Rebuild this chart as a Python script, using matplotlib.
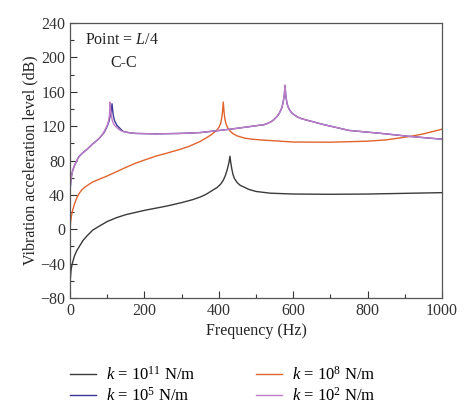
import matplotlib
matplotlib.use("Agg")
import matplotlib.pyplot as plt
from matplotlib.ticker import MultipleLocator

plt.rcParams['font.family'] = ['Liberation Serif', 'DejaVu Serif']
plt.rcParams['mathtext.fontset'] = 'custom'
plt.rcParams['mathtext.rm'] = 'Liberation Serif'
plt.rcParams['mathtext.it'] = 'Liberation Serif:italic'

# ---- data ----
f_k11 = [0, 1, 3, 5, 8, 12, 18, 25, 35, 45, 61, 80, 100, 125, 150, 175, 200, 230, 260,
         300, 330, 350, 365, 380, 395, 405, 412, 418, 423, 427, 430, 432, 435, 438, 442,
         450, 458, 466, 480, 500, 538, 600, 700, 800, 900, 1000]
v_k11 = [-65, -57, -47, -42, -37, -31, -25, -20, -13, -8, -1, 4, 9, 13.5, 17, 19.5, 22,
         24.5, 27, 31, 34.5, 37.5, 40.5, 44.5, 48.5, 52.5, 57, 63, 70, 77, 85, 78, 70, 64, 59,
         54, 51, 49.5, 46.5, 44, 42, 41, 40.7, 41, 41.8, 42.6]

f_k8 = [0, 1, 2, 4, 7, 11, 15, 20, 25, 32, 40, 50, 61, 80, 100, 120, 150, 177, 200, 230,
        260, 296, 320, 349, 365, 380, 394, 400, 405, 408, 410, 412, 414, 416, 419, 425,
        432, 439, 450, 470, 490, 511, 600, 700, 800, 850, 914, 950, 1000]
v_k8 = [-2, 5, 10, 16, 22, 28, 33, 38, 42, 46, 49, 52, 55, 58.5, 62, 66, 72, 77, 80.5,
        85, 88.5, 93, 96.5, 102, 106, 110, 115, 118.5, 123, 130, 137, 148, 137, 129, 123,
        117, 113.5, 111, 108.5, 106, 104.8, 104, 101.5, 101.3, 102.5, 104, 108, 111, 116.4]

f_k5 = [0, 1, 2, 3, 5, 7, 10, 13, 16, 20, 25, 33, 43, 52, 60, 70, 79, 86, 92, 97, 101,
        105, 108, 111, 113, 115, 117, 120, 126, 134, 142, 157, 177, 230, 296, 350, 430,
        484, 500, 520, 530, 540, 548, 556, 562, 566, 570, 573, 576, 578, 580, 583, 586,
        590, 595, 600, 610, 620, 636, 654, 675, 700, 750, 833, 914, 1000]
v_k5 = [42, 50, 55, 59, 64, 68, 72, 75, 78, 81.5, 85, 88.5, 92, 95.5, 99, 102.5, 106,
        109.5, 113, 117, 121, 126, 132, 138, 146, 137, 131, 126, 121, 117.5, 114, 112.5,
        111.5, 111, 111.5, 112.5, 116.4, 119.5, 120.5, 121.5, 123, 125, 127.5, 131, 134.5,
        138, 142, 148, 156, 167, 156, 147, 142.5, 139, 136, 134, 131, 129, 127, 125, 122.5,
        120, 115, 111.7, 108, 104.8]

f_k2 = [0, 1, 2, 3, 5, 7, 10, 13, 16, 20, 25, 33, 43, 52, 60, 70, 79, 86, 92, 97, 101,
        104, 106, 108, 109, 111, 114, 118, 124, 132, 140, 155, 177, 230, 296, 350, 430,
        484, 500, 520, 530, 540, 548, 556, 562, 566, 570, 573, 576, 578, 580, 583, 586,
        590, 595, 600, 610, 620, 636, 654, 675, 700, 750, 833, 914, 1000]
v_k2 = [42, 50, 55, 59, 64, 68, 72, 75, 78, 81.5, 85, 88.5, 92, 95.5, 99, 102.5, 106,
        109.5, 114, 118, 122, 127, 133, 148, 140, 132, 126, 122, 119, 116, 114, 112.5,
        111.5, 111, 111.5, 112.5, 116.4, 119.5, 120.5, 121.5, 123, 125, 127.5, 131, 134.5,
        138, 142, 148, 156, 168, 156, 147, 142.5, 139, 136, 134, 131, 129, 127, 125, 122.5,
        120, 115, 111.7, 108, 104.8]

labels = [r'$k$ = 10$^{11}$ N/m', r'$k$ = 10$^{5}$ N/m',
          r'$k$ = 10$^{8}$ N/m', r'$k$ = 10$^{2}$ N/m']
colors = ['#3a3a3a', '#3b3796', '#e0642c', '#c07cc6']

fig = plt.figure(figsize=(4.74, 4.18), dpi=100)
ax = fig.add_axes([0.1477, 0.287, 0.7848, 0.658])

h11, = ax.plot(f_k11, v_k11, color=colors[0], lw=1.0)
h8, = ax.plot(f_k8, v_k8, color=colors[2], lw=1.0)
h5, = ax.plot(f_k5, v_k5, color=colors[1], lw=1.0)
h2, = ax.plot(f_k2, v_k2, color=colors[3], lw=1.0)

ax.set_xlim(0, 1000)
ax.set_ylim(-80, 240)
ax.xaxis.set_major_locator(MultipleLocator(200))
ax.xaxis.set_minor_locator(MultipleLocator(100))
ax.yaxis.set_major_locator(MultipleLocator(40))
ax.yaxis.set_minor_locator(MultipleLocator(20))
ax.tick_params(which='both', direction='in', top=False, right=False,
               labelsize=11.5, colors='#333333', width=0.8)
ax.tick_params(which='major', length=5)
ax.tick_params(which='minor', length=3)
for s in ax.spines.values():
    s.set_color('#555555')
    s.set_linewidth(0.9)

ax.set_xlabel('Frequency (Hz)', fontsize=11.5, color='#222222', labelpad=3)
ax.set_ylabel('Vibration acceleration level (dB)', fontsize=11.5, color='#222222', labelpad=1)

ax.text(0.14, 0.938, r'Point = $L$/4', transform=ax.transAxes, ha='center', va='center',
        fontsize=11.5, color='#222222')
ax.text(0.143, 0.855, 'C-C', transform=ax.transAxes, ha='center', va='center',
        fontsize=11.5, color='#222222')

fig.legend([h11, h5, h8, h2], labels, ncol=2, frameon=False, loc='center',
           bbox_to_anchor=(0.47, 0.078), fontsize=12, handlelength=1.6,
           columnspacing=3.6, labelspacing=0.2, handletextpad=0.6)

fig.savefig('out.png', dpi=100)
